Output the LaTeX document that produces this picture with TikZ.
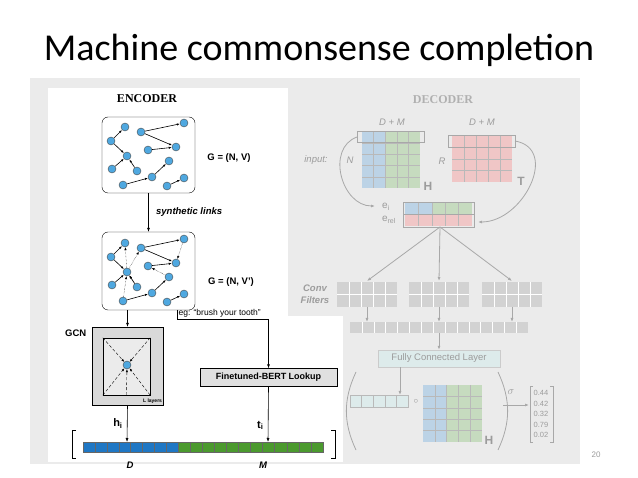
\documentclass[tikz,border=0pt]{standalone}
\usepackage{fontspec}
\setmainfont{Liberation Sans}
\newfontfamily\serifbf{Liberation Serif}
\newfontfamily\titlefont{Carlito}
\usetikzlibrary{arrows.meta, positioning}

\definecolor{nodeblue}{HTML}{4FA8E0}
\definecolor{barblue}{HTML}{1F77C4}
\definecolor{bargreen}{HTML}{4B9A2E}
\definecolor{panelgray}{HTML}{EBEBEB}
\definecolor{fadeline}{HTML}{A8A8A8}
\definecolor{fadetext}{HTML}{9C9C9C}
\definecolor{fadeblue}{HTML}{BCD3E6}
\definecolor{fadegreen}{HTML}{C6DBBF}
\definecolor{fadepink}{HTML}{F0C6C6}
\definecolor{fadecell}{HTML}{D2D2D2}
\definecolor{fadecyan}{HTML}{DDEBEB}

\begin{document}
\begin{tikzpicture}[x=1pt, y=-1pt, font=\fontsize{9}{10}\selectfont]
    \tikzset{
        gnode/.style = {circle, draw=black!70, fill=nodeblue, minimum size=8pt, inner sep=0pt},
        gedge/.style = {-{Latex[length=3pt]}, semithick},
        sedge/.style = {-{Latex[length=3pt]}, densely dotted},
        gbox/.style = {draw, rounded corners=6pt, fill=white},
        line/.style = {draw, -{Latex[length=4pt]}, semithick},
        fline/.style = {draw=fadeline, -{Latex[length=4pt]}, thick},
        lbl/.style = {font=\fontsize{9.5}{11}\selectfont\bfseries},
        ftxt/.style = {text=fadetext, font=\fontsize{9.5}{11}\selectfont\itshape},
        cell/.style = {draw=fadeline!80, line width=0.3pt}
    }
    \useasboundingbox (0,0) rectangle (638,478);
    \fill[white] (0,0) rectangle (638,478);

    % title and panels
    \node[font=\titlefont\fontsize{38}{42}\selectfont] (title) at (319,50) {Machine commonsense completion};
    \fill[panelgray] (30,78) rectangle (580,464);
    \fill[white] (48,88) rectangle (288,318);
    \fill[white] (48,316) rectangle (343,462);
    \node[text=fadetext, font=\fontsize{8}{9}\selectfont] (page) at (596,455) {20};

    % ---------------- encoder ----------------
    \node[font=\serifbf\bfseries\fontsize{12}{14}\selectfont] (enc) at (147,99) {ENCODER};
    \node[gbox, minimum width=93pt, minimum height=76pt] (g1) at (148.5,155) {};
    \node[gbox, minimum width=93pt, minimum height=78pt] (g2) at (148.5,271) {};
    \node[lbl] (g1lbl) at (229,158) {G = (N, V)};
    \node[lbl] (g2lbl) at (231,282) {G = (N, V')};

    \foreach \i/\x/\y in {1/125/127, 2/111/141, 3/127/156, 4/112/169, 5/137/171, 6/141/132, 7/184/123,
                          8/148/150, 9/176/147, 10/169/161, 11/152/177, 12/123/185, 13/167/186, 14/184/178} {
        \node[gnode] (a\i) at (\x,\y) {};
        \node[gnode] (b\i) at (\x,\y+116) {};
    }
    \foreach \s/\t in {2/1, 2/3, 4/3, 5/3, 6/7, 6/9, 8/9, 11/10, 12/11, 13/14} {
        \draw[gedge] (a\s) -- (a\t);
        \draw[gedge] (b\s) -- (b\t);
    }
    \foreach \s/\t in {3/1, 3/6, 12/3, 7/9, 10/8, 5/3} {
        \draw[sedge] (b\s) -- (b\t);
    }

    \draw[line] (g1) -- (g2) node[midway, right=4pt, font=\fontsize{9.5}{11}\selectfont\bfseries\itshape] (synth) {synthetic links};

    % GCN
    \node[draw, fill=black!15, minimum width=71pt, minimum height=78pt] (gcn) at (127.5,366) {};
    \node[draw, fill=black!8, minimum width=47pt, minimum height=57pt] (gcnin) at (126.5,366.5) {};
    \node[gnode] (gc) at (127,365) {};
    \foreach \c in {north west, north east, south west, south east, south} {
        \draw[sedge, densely dashed] (gcnin.\c) -- (gc);
    }
    \node[font=\fontsize{5}{6}\selectfont\bfseries, anchor=south east, inner sep=1pt] (llay) at (gcn.south east) {L layers};
    \node[lbl, anchor=north east] (gcnlbl) at ([xshift=-2pt]gcn.north west) {GCN};
    \draw[line] (g2.south -| gcn.north) -- (gcn.north);

    % BERT
    \node[draw, fill=black!12, minimum width=137pt, minimum height=18pt, font=\fontsize{9}{10}\selectfont\bfseries] (bert) at (268.5,377.5) {Finetuned-BERT Lookup};
    \coordinate (bend) at (177,319);
    \draw[line] (177,310) -- (bend) -| (bert.north);
    \node[anchor=south west, font=\fontsize{8.5}{10}\selectfont, inner sep=1.5pt] (eg) at (bend) {eg: “brush your tooth”};

    % embedding bar
    \foreach \i in {0,...,7} {
        \draw[fill=barblue, draw=black!60, line width=0.3pt] (83+\i*11.9,442) rectangle ++(11.9,10);
    }
    \foreach \i in {0,...,11} {
        \draw[fill=bargreen, draw=black!60, line width=0.3pt] (178+\i*12.08,442) rectangle ++(12.08,10);
    }
    \coordinate (barh) at (127,442);
    \coordinate (bart) at (268,442);
    \draw[semithick] (76,430) -- (72,430) -- (72,458) -- (76,458);
    \draw[semithick] (331,430) -- (335,430) -- (335,458) -- (331,458);
    \draw[line] (gcn.south) -- (barh) node[pos=0.5, left=1pt, font=\fontsize{11}{12}\selectfont\bfseries] (hi) {h$_\mathbf{i}$};
    \draw[line] (bert.south) -- (bart) node[pos=0.7, left=1pt, font=\fontsize{11}{12}\selectfont\bfseries] (ti) {t$_\mathbf{i}$};
    \node[font=\fontsize{9.5}{11}\selectfont\bfseries\itshape] (dlbl) at (130,465) {D};
    \node[font=\fontsize{9.5}{11}\selectfont\bfseries\itshape] (mlbl) at (263,465) {M};

    % ---------------- decoder ----------------
    \node[text=fadetext!80, font=\serifbf\bfseries\fontsize{12}{14}\selectfont] (dec) at (443,100) {DECODER};
    \node[ftxt] (dm1) at (392,122) {D + M};
    \node[ftxt] (dm2) at (482,122) {D + M};
    \node[ftxt] (inp) at (316,160) {input:};

    % matrix N
    \fill[fadeblue] (362,132) rectangle (385,188);
    \fill[fadegreen] (385,132) rectangle (420,188);
    \foreach \i in {1,...,4} \draw[cell] (362+\i*11.6,132) -- (362+\i*11.6,188);
    \foreach \j in {1,...,4} \draw[cell] (362,132+\j*11.2) -- (420,132+\j*11.2);
    \draw[fadeline, thick] (357,131) rectangle (424,142);
    \node[ftxt] (nlbl) at (350,160) {N};
    \node[text=fadetext, font=\fontsize{12}{13}\selectfont\bfseries] (h1) at (428,186) {H};
    \coordinate (nrow) at (357,137);

    % matrix R
    \fill[fadepink] (452,136) rectangle (512,182);
    \foreach \i in {1,...,4} \draw[cell] (452+\i*12,136) -- (452+\i*12,182);
    \foreach \j in {1,...,3} \draw[cell] (452,136+\j*11.5) -- (512,136+\j*11.5);
    \draw[fadeline, thick] (448,135) rectangle (515,147);
    \node[ftxt] (rlbl) at (442,161) {R};
    \node[text=fadetext, font=\fontsize{12}{13}\selectfont\bfseries] (t1) at (521,181) {T};
    \coordinate (rrow) at (515,141);

    % e_i / e_rel
    \fill[fadeblue] (405,203) rectangle (433,214);
    \fill[fadegreen] (433,203) rectangle (472,214);
    \fill[fadepink] (405,215) rectangle (472,226);
    \foreach \i in {1,...,4} \draw[cell] (405+\i*13.4,203) -- (405+\i*13.4,226);
    \draw[fadeline, thick] (403,202) rectangle (474,214.5) (403,214.5) rectangle (474,227);
    \node[text=fadetext, font=\fontsize{10}{11}\selectfont] (ei) at (386,207) {e$_\mathrm{i}$};
    \node[text=fadetext, font=\fontsize{10}{11}\selectfont] (erel) at (389,220) {e$_\mathrm{rel}$};
    \coordinate (evec) at (440,227);
    \draw[fline] (nrow) to[out=200, in=180, looseness=1.2] (375,206);
    \draw[fline] (rrow) to[out=-10, in=0, looseness=1.3] (478,222);

    % conv filters
    \foreach \x/\n in {337/c1, 409/c2, 482/c3} {
        \fill[fadecell] (\x,282) rectangle ++(60,25);
        \foreach \i in {1,...,4} \draw[cell, draw=white] (\x+\i*12,282) -- (\x+\i*12,307);
        \draw[cell, draw=white] (\x,294.5) -- (\x+60,294.5);
        \coordinate (\n t) at (\x+30,281);
        \coordinate (\n b) at (\x+30,307);
    }
    \node[ftxt, align=center, font=\fontsize{9.5}{12}\selectfont\bfseries\itshape] (conv) at (315,294) {Conv\\Filters};
    \draw[fline] (evec) -- (c1t);
    \draw[fline] (evec) -- (c2t);
    \draw[fline] (evec) -- (c3t);

    % feature bar
    \fill[fadecell] (350,322) rectangle (528,333);
    \foreach \i in {1,...,14} \draw[cell, draw=white] (350+\i*11.87,322) -- (350+\i*11.87,333);
    \foreach \n in {c1, c2, c3} \draw[fline] (\n b) -- (\n b |- 0,322);
    \coordinate (fbar) at (439,333);

    % fully connected layer
    \node[draw=fadeline!60, fill=fadecyan, text=fadetext, minimum width=122pt, minimum height=17pt, font=\fontsize{9.5}{11}\selectfont] (fc) at (439,358.5) {Fully Connected Layer};
    \draw[fline] (fbar) -- (fc.north);

    % scoring
    \draw[fadeline, thick] (356,372) to[bend right=25] (356,450);
    \draw[fadeline, thick] (498,372) to[bend left=25] (498,450);
    \fill[fadecyan] (350,395) rectangle (408,407);
    \foreach \i in {1,...,4} \draw[cell] (350+\i*11.6,395) -- (350+\i*11.6,407);
    \draw[cell] (350,395) rectangle (408,407);
    \draw[fline] (fc.south -| 400,0) -- (400,395);
    \node[text=fadetext] (circ) at (416,401) {$\circ$};
    \fill[fadeblue] (423,385) rectangle (446,442);
    \fill[fadegreen] (446,385) rectangle (482,442);
    \foreach \i in {1,...,4} \draw[cell] (423+\i*11.8,385) -- (423+\i*11.8,442);
    \foreach \j in {1,...,4} \draw[cell] (423,385+\j*11.4) -- (482,385+\j*11.4);
    \node[text=fadetext, font=\fontsize{12}{13}\selectfont\bfseries] (h2) at (489,440) {H};
    \node[text=fadetext, font=\fontsize{11}{12}\selectfont] (sig) at (511,392) {$\sigma$};
    \coordinate (sigs) at (503,405);
    \node[text=fadetext, align=center, font=\fontsize{7.5}{10.5}\selectfont, inner sep=1pt] (scores) at (541,414) {0.44\\0.42\\0.32\\0.79\\0.02};
    \draw[fadeline] (533,386) -- (530,386) -- (530,442) -- (533,442);
    \draw[fadeline] (550,386) -- (553,386) -- (553,442) -- (550,442);
    \draw[fline] (sigs) -- (529,405);
\end{tikzpicture}
\end{document}
